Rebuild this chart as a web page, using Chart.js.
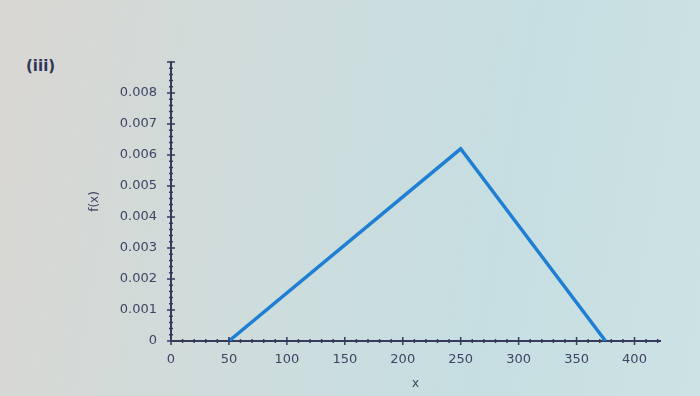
<!DOCTYPE html>
<html lang="en">
<head>
<meta charset="UTF-8">
<title>f(x)</title>
<script src="https://cdn.jsdelivr.net/npm/chart.js@4/dist/chart.umd.min.js"></script>
<style>
  html, body { margin: 0; padding: 0; }
  body {
    width: 700px; height: 396px; overflow: hidden; position: relative;
    background: linear-gradient(100deg, #d9d6d2 0%, #cfdcdb 35%, #c6dee2 70%, #cde2e4 100%);
    font-family: "DejaVu Sans", sans-serif;
  }
  #label { position: absolute; left: 26px; top: 57px; font-size: 15px; font-weight: bold; color: #2f3556; }
  #wrap { position: absolute; left: 0; top: 0; width: 700px; height: 396px; }
</style>
</head>
<body>
<div id="label">(iii)</div>
<div id="wrap"><canvas id="myChart"></canvas></div>
<script>
// triangular density
const xValues = [50, 250, 375];
const fValues = [0, 0.0062, 0];
const xTicks = [0, 50, 100, 150, 200, 250, 300, 350, 400];
const yTicks = [0, 0.001, 0.002, 0.003, 0.004, 0.005, 0.006, 0.007, 0.008];

const axisColor = '#363b5c';
const textColor = '#3f4466';

// ticks that cross the axis lines, plus minor ticks
const crossTicks = {
  id: 'crossTicks',
  afterDraw(chart) {
    const { ctx, scales: { x, y } } = chart;
    const x0 = x.getPixelForValue(0);
    const y0 = y.getPixelForValue(0);
    ctx.save();
    ctx.strokeStyle = axisColor;
    ctx.lineWidth = 1.5;
    ctx.beginPath();
    for (let v = 0; v <= x.max + 0.01; v += 10) {
      const px = x.getPixelForValue(v);
      const len = v % 50 === 0 ? 4 : 2;
      ctx.moveTo(px, y0 - len);
      ctx.lineTo(px, y0 + len);
    }
    for (let i = 0; i <= 45; i++) {
      const v = i * 0.0002;
      const py = y.getPixelForValue(v);
      const len = i % 5 === 0 ? 4 : 2;
      ctx.moveTo(x0 - len, py);
      ctx.lineTo(x0 + len, py);
    }
    // cap at the top of the y axis
    const yTop = y.getPixelForValue(y.max);
    ctx.moveTo(x0 - 4, yTop);
    ctx.lineTo(x0 + 4, yTop);
    ctx.stroke();
    ctx.restore();
  }
};

new Chart(document.getElementById('myChart'), {
  type: 'line',
  data: {
    datasets: [{
      data: xValues.map((v, i) => ({ x: v, y: fValues[i] })),
      borderColor: '#1f7fd3',
      borderWidth: 3.5,
      pointRadius: 0,
      tension: 0,
      fill: false
    }]
  },
  options: {
    responsive: true,
    maintainAspectRatio: false,
    animation: false,
    layout: { padding: { left: 88, right: 40, top: 62, bottom: 0 } },
    plugins: { legend: { display: false }, tooltip: { enabled: false } },
    scales: {
      x: {
        type: 'linear',
        min: 0,
        max: 422,
        afterFit(scale) { scale.height = 55; },
        afterBuildTicks(scale) { scale.ticks = xTicks.map(v => ({ value: v })); },
        grid: { display: false },
        border: { display: true, color: axisColor, width: 2 },
        ticks: { color: textColor, font: { size: 13, family: 'DejaVu Sans' }, padding: 3 },
        title: { display: true, text: 'x', color: textColor, font: { size: 12, family: 'DejaVu Sans' }, padding: { top: 0, bottom: 5 } }
      },
      y: {
        type: 'linear',
        min: 0,
        max: 0.009,
        afterFit(scale) { scale.width = 83; },
        afterBuildTicks(scale) { scale.ticks = yTicks.map(v => ({ value: v })); },
        grid: { display: false },
        border: { display: true, color: axisColor, width: 2 },
        ticks: {
          color: textColor,
          font: { size: 13, family: 'DejaVu Sans' },
          padding: 6,
          callback: v => v === 0 ? '0' : v.toFixed(3)
        },
        title: { display: true, text: 'f(x)', color: textColor, font: { size: 12, family: 'DejaVu Sans' }, padding: { top: 0, bottom: 6 } }
      }
    }
  },
  plugins: [crossTicks]
});
</script>
</body>
</html>
